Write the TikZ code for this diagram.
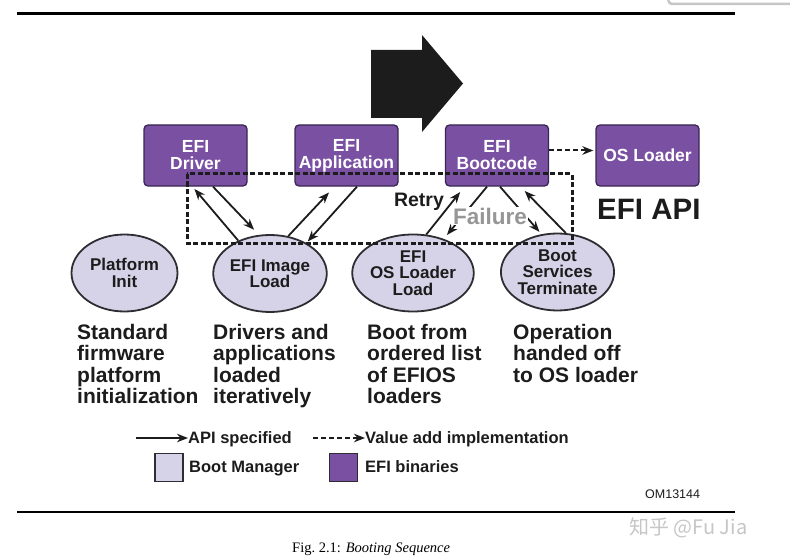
\documentclass[tikz,border=0pt]{standalone}
\usepackage{fontspec}
\setmainfont{Liberation Sans}
\newfontfamily\capfont{Liberation Serif}
\newfontfamily\cjk{Noto Sans CJK SC}
\usepackage{xcolor}
\usepackage{tikz}
\usetikzlibrary{arrows.meta,shapes.geometric}
\definecolor{efipurple}{RGB}{122,81,162}
\definecolor{efiedge}{RGB}{58,38,82}
\definecolor{bmlav}{RGB}{214,211,232}
\definecolor{bmedge}{RGB}{45,45,50}
\definecolor{inkdark}{RGB}{28,28,28}
\definecolor{failgray}{RGB}{150,150,150}
\tikzset{
  efibox/.style={draw=efiedge, line width=1.3pt, fill=efipurple, rounded corners=4pt,
    minimum width=103pt, minimum height=61pt, inner sep=0pt, text=white, align=center,
    font=\bfseries\fontsize{17.5}{17}\selectfont},
  bmell/.style={ellipse, draw=bmedge, line width=1.8pt, fill=bmlav, minimum width=106pt,
    minimum height=77pt, inner sep=0pt, text=inkdark, align=center,
    font=\bfseries\fontsize{17}{16.5}\selectfont},
  arr/.style={-{Stealth[length=11pt,width=8.5pt]}, line width=1.8pt, draw=inkdark},
  dasharr/.style={arr, line width=2pt, dash pattern=on 5pt off 3pt},
  grp/.style={line width=3pt, dash pattern=on 5pt off 2.5pt, draw=inkdark},
  desc/.style={anchor=north west, inner sep=0pt, align=left, text=inkdark,
    font=\bfseries\fontsize{21}{21.5}\selectfont},
  legsq/.style={draw=bmedge, line width=1.6pt, minimum size=28pt, inner sep=0pt},
  legtxt/.style={anchor=base west, inner sep=0pt, text=inkdark,
    font=\bfseries\fontsize{16.5}{18}\selectfont}
}

\begin{document}
\begin{tikzpicture}[x=1pt,y=-1pt]
  \useasboundingbox (0,0) rectangle (790,559);
  \draw[line width=2.5pt] (17,13.5) -- (735,13.5);
  \draw[line width=2.5pt, gray!45] (668,0) .. controls (670,4) .. (676,4) -- (790,4);
  \fill[inkdark] (371,50) -- (422,50) -- (422,35) -- (463,83.5) -- (422,132) -- (422,118) -- (371,118) -- cycle;

  \node[efibox] (drv) at (195.5,155.5) {EFI\\Driver};
  \node[efibox] (app) at (346.5,155.5) {EFI\\Application};
  \node[efibox] (boot) at (497,155.5) {EFI\\Bootcode};
  \node[efibox] (osl) at (647.5,155.5) {OS Loader};
  \node[bmell] (plat) at (124.5,273) {Platform\\Init};
  \node[bmell] (img) at (270,273.5) {EFI Image\\Load};
  \node[bmell] (osld) at (413,273) {EFI\\OS Loader\\Load};
  \node[bmell] (bsvc) at (557.5,272) {Boot\\Services\\Terminate};

  \draw[arr, shorten >=3pt] (img.134) -- ([xshift=-3pt]drv.south);
  \draw[arr, shorten >=7pt] ([xshift=17.5pt]drv.south) -- (img.106);
  \draw[arr, shorten >=8pt] (img.64) -- ([xshift=-12pt]app.south);
  \draw[arr, shorten >=2pt] ([xshift=10.5pt]app.south) -- (img.40);
  \draw[arr, shorten >=7pt] (osld.71) -- ([xshift=-32.5pt]boot.south);
  \draw[arr, shorten >=5pt] ([xshift=-10pt]boot.south) -- (osld.48);
  \draw[arr, shorten >=3pt] ([xshift=3pt]boot.south) -- (bsvc.113);
  \draw[arr, shorten >=6pt] (bsvc.78) -- ([xshift=23.5pt]boot.south);
  \draw[dasharr, shorten >=2pt] ([yshift=5pt]boot.east) -- ([yshift=5pt]osl.west);

  \node[anchor=base, inner sep=0pt, text=inkdark, font=\bfseries\fontsize{19.5}{20}\selectfont] (retry) at (419,207) {Retry};
  \node[anchor=base, fill=white, inner sep=1pt, text=failgray, font=\bfseries\fontsize{22.5}{23}\selectfont] (fail) at (490,224) {Failure};
  \draw[grp] (187,174) rectangle (572,243);
  \node[anchor=base west, inner sep=0pt, text=inkdark, font=\bfseries\fontsize{29.5}{30}\selectfont] (api) at (597,219) {EFI API};

  \node[desc] (dplat) at (77,323.7) {Standard\\firmware\\platform\\initialization};
  \node[desc] (dimg) at (213,323.7) {Drivers and\\applications\\loaded\\iteratively};
  \node[desc] (dosld) at (367,323.7) {Boot from\\ordered list\\of EFIOS\\loaders};
  \node[desc] (dbsvc) at (513,323.7) {Operation\\handed off\\to OS loader};

  \node[legtxt] (lapi) at (188,443) {API specified};
  \coordinate (lapis) at (136,438);
  \draw[arr] (lapis) -- (lapi.west |- lapis);
  \node[legtxt] (lval) at (365,443) {Value add implementation};
  \coordinate (lvals) at (313,438);
  \draw[dasharr] (lvals) -- (lval.west |- lvals);
  \node[legsq, fill=bmlav] (sqbm) at (169,467.5) {};
  \node[legtxt] (lbm) at (189,472) {Boot Manager};
  \node[legsq, fill=efipurple] (sqefi) at (343.5,467.5) {};
  \node[legtxt] (lefi) at (365,472) {EFI binaries};

  \node[anchor=base west, inner sep=0pt, text=inkdark, font=\fontsize{12.5}{13}\selectfont] (om) at (645,498) {OM13144};
  \draw[line width=2.5pt] (17,512) -- (735,512);
  \node[anchor=base west, inner sep=0pt, text=gray!45, font=\cjk\fontsize{20}{22}\selectfont] (wm) at (629,534.5) {知乎 @Fu Jia};
  \node[anchor=base west, inner sep=0pt, font=\capfont\fontsize{14.5}{16}\selectfont] (cap) at (292,552) {Fig.~2.1: \textit{Booting Sequence}};
\end{tikzpicture}
\end{document}
